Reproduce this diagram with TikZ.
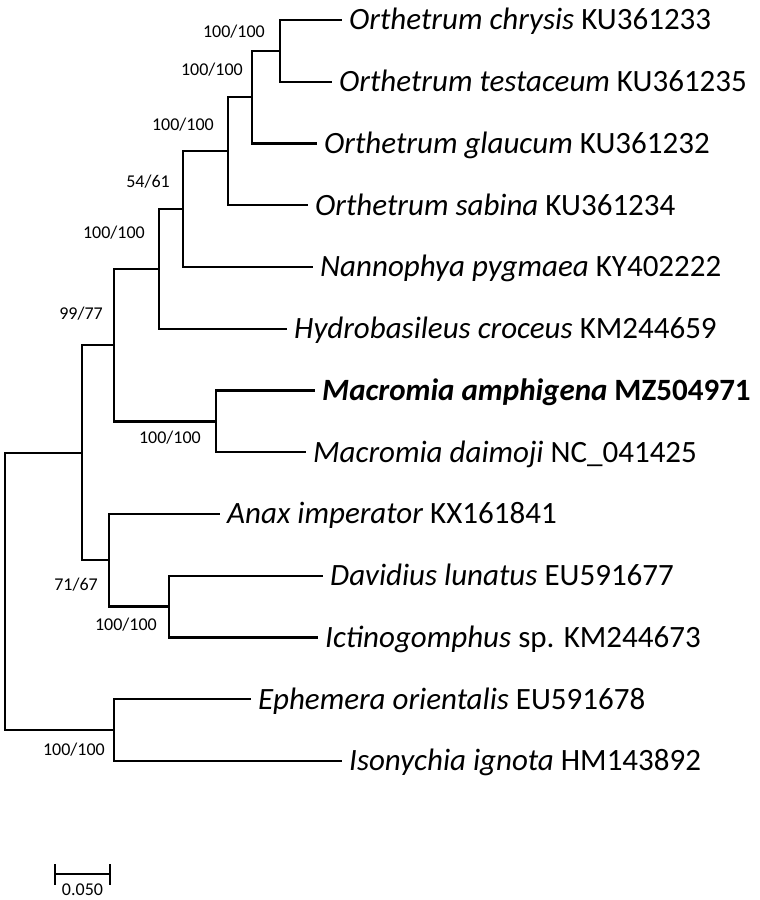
\documentclass[tikz,border=0pt]{standalone}
\usepackage{fontspec}
\setmainfont{Carlito}
\usetikzlibrary{positioning}

\begin{document}
\begin{tikzpicture}[x=1pt,y=-1pt,
  branch/.style={line width=2.3pt,line join=miter},
  leaf/.style={anchor=west,inner xsep=7pt,inner ysep=0pt,text height=19.5pt,text depth=0pt,font=\fontsize{31}{37}\selectfont},
  boot/.style={anchor=east,inner sep=0pt,text height=11.4pt,text depth=0pt,font=\fontsize{18}{22}\selectfont}]

\useasboundingbox (0,0) rectangle (760,900);

\foreach \i/\tip/\txt in {
  0/342/{\textit{Orthetrum chrysis} KU361233},
  1/332/{\textit{Orthetrum testaceum} KU361235},
  2/317/{\textit{Orthetrum glaucum} KU361232},
  3/308/{\textit{Orthetrum sabina} KU361234},
  4/313/{\textit{Nannophya pygmaea} KY402222},
  5/287/{\textit{Hydrobasileus croceus} KM244659},
  6/315/{\textbf{\textit{Macromia amphigena} MZ504971}},
  7/306/{\textit{Macromia daimoji} NC\_041425},
  8/220/{\textit{Anax imperator} KX161841},
  9/323/{\textit{Davidius lunatus} EU591677},
  10/318/{\textit{Ictinogomphus} sp. KM244673},
  11/251/{\textit{Ephemera orientalis} EU591678},
  12/342/{\textit{Isonychia ignota} HM143892}}
  \node [leaf] (l\i) at ({\tip},{20+61.75*\i}) {\txt};

\coordinate (n1) at (280,50.9);
\coordinate (n2) at (252,97.2);
\coordinate (n3) at (228,151.2);
\coordinate (n4) at (183,209.1);
\coordinate (n5) at (159,268.9);
\coordinate (n6) at (216,421.4);
\coordinate (n7) at (114,345.2);
\coordinate (n8) at (169,606.6);
\coordinate (n9) at (109,560.3);
\coordinate (n10) at (82,452.7);
\coordinate (n11) at (114,730.1);
\coordinate (n12) at (5,591.4);

\draw [branch] (n1) |- (l0.west);
\draw [branch] (n1) |- (l1.west);
\draw [branch] (n2) |- (n1);
\draw [branch] (n2) |- (l2.west);
\draw [branch] (n3) |- (n2);
\draw [branch] (n3) |- (l3.west);
\draw [branch] (n4) |- (n3);
\draw [branch] (n4) |- (l4.west);
\draw [branch] (n5) |- (n4);
\draw [branch] (n5) |- (l5.west);
\draw [branch] (n6) |- (l6.west);
\draw [branch] (n6) |- (l7.west);
\draw [branch] (n7) |- (n5);
\draw [branch] (n7) |- (n6);
\draw [branch] (n8) |- (l9.west);
\draw [branch] (n8) |- (l10.west);
\draw [branch] (n9) |- (l8.west);
\draw [branch] (n9) |- (n8);
\draw [branch] (n10) |- (n7);
\draw [branch] (n10) |- (n9);
\draw [branch] (n11) |- (l11.west);
\draw [branch] (n11) |- (l12.west);
\draw [branch] (n12) |- (n10);
\draw [branch] (n12) |- (n11);

\node [boot] (b1) at (265,32) {100/100};
\node [boot] (b2) at (243,70) {100/100};
\node [boot] (b3) at (214,125) {100/100};
\node [boot] (b4) at (170,182) {54/61};
\node [boot] (b5) at (145,233) {100/100};
\node [boot] (b6) at (201,438) {100/100};
\node [boot] (b7) at (103,314) {99/77};
\node [boot] (b8) at (157,625) {100/100};
\node [boot] (b9) at (98,585) {71/67};
\node [boot] (b11) at (105,750) {100/100};

\coordinate (s0) at (55,874);
\coordinate (s1) at (110,874);
\draw [branch] (s0) -- (s1);
\draw [branch] ([yshift=10pt]s0) -- ([yshift=-11pt]s0);
\draw [branch] ([yshift=10pt]s1) -- ([yshift=-11pt]s1);
\node [boot,anchor=center] (sbar) at (82.5,890) {0.050};

\end{tikzpicture}
\end{document}
